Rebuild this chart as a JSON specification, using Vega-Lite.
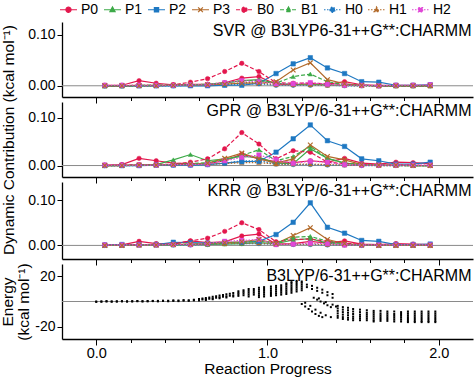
{
"$schema":"https://vega.github.io/schema/vega-lite/v6.json",
"padding":0,
"autosize":{"type":"pad"},
"background":"white",
"bounds":"flush",
"spacing":5,
"config":{
 "font":"Liberation Sans",
 "view":{"stroke":null},
 "axis":{"grid":false,"domainColor":"black","domainWidth":1.3,"tickColor":"black","tickWidth":1,"labelColor":"black","titleColor":"black","titleFontWeight":"normal","labelFontSize":14,"titleFontSize":15.5,"labelPadding":2,"labelOverlap":false,"labelSeparation":-40,"labelFont":"Liberation Sans","titleFont":"Liberation Sans"},
 "legend":{"orient":"none","legendX":-3,"legendY":-22,"direction":"horizontal","columns":9,"labelFontSize":14,"labelColor":"black","labelFont":"Liberation Sans","symbolSize":289,"symbolStrokeWidth":1.2,"columnPadding":2,"labelOffset":3,"padding":0},
 "text":{"font":"Liberation Sans","fontSize":16,"color":"black","fontWeight":"normal"}
},
"datasets":{
"svr":[
{"series":"P0","x":0.05,"value":0.001},{"series":"P0","x":0.15,"value":0.001},{"series":"P0","x":0.25,"value":0.010},{"series":"P0","x":0.35,"value":0.005},{"series":"P0","x":0.45,"value":0.002},{"series":"P0","x":0.55,"value":0.003},{"series":"P0","x":0.65,"value":0.003},{"series":"P0","x":0.75,"value":0.006},{"series":"P0","x":0.85,"value":0.015},{"series":"P0","x":0.95,"value":0.018},{"series":"P0","x":1.05,"value":0.003},{"series":"P0","x":1.15,"value":0.002},{"series":"P0","x":1.25,"value":0.004},{"series":"P0","x":1.35,"value":0.003},{"series":"P0","x":1.45,"value":0.008},{"series":"P0","x":1.55,"value":0.002},{"series":"P0","x":1.65,"value":0.001},{"series":"P0","x":1.75,"value":0.001},{"series":"P0","x":1.85,"value":0.001},{"series":"P0","x":1.95,"value":0.001},
{"series":"P1","x":0.05,"value":0},{"series":"P1","x":0.15,"value":0},{"series":"P1","x":0.25,"value":0.001},{"series":"P1","x":0.35,"value":0.001},{"series":"P1","x":0.45,"value":0.001},{"series":"P1","x":0.55,"value":0.002},{"series":"P1","x":0.65,"value":0.003},{"series":"P1","x":0.75,"value":0.005},{"series":"P1","x":0.85,"value":0.010},{"series":"P1","x":0.95,"value":0.012},{"series":"P1","x":1.05,"value":0.005},{"series":"P1","x":1.15,"value":0.003},{"series":"P1","x":1.25,"value":0.003},{"series":"P1","x":1.35,"value":0.002},{"series":"P1","x":1.45,"value":0.001},{"series":"P1","x":1.55,"value":0.001},{"series":"P1","x":1.65,"value":0},{"series":"P1","x":1.75,"value":0},{"series":"P1","x":1.85,"value":0},{"series":"P1","x":1.95,"value":0},
{"series":"P2","x":0.05,"value":0},{"series":"P2","x":0.15,"value":0},{"series":"P2","x":0.25,"value":0},{"series":"P2","x":0.35,"value":0},{"series":"P2","x":0.45,"value":0},{"series":"P2","x":0.55,"value":0},{"series":"P2","x":0.65,"value":0},{"series":"P2","x":0.75,"value":0.001},{"series":"P2","x":0.85,"value":0.001},{"series":"P2","x":0.95,"value":0.005},{"series":"P2","x":1.05,"value":0.024},{"series":"P2","x":1.15,"value":0.043},{"series":"P2","x":1.25,"value":0.055},{"series":"P2","x":1.35,"value":0.035},{"series":"P2","x":1.45,"value":0.024},{"series":"P2","x":1.55,"value":0.008},{"series":"P2","x":1.65,"value":0.007},{"series":"P2","x":1.75,"value":0.001},{"series":"P2","x":1.85,"value":0.001},{"series":"P2","x":1.95,"value":0.002},
{"series":"P3","x":0.05,"value":0},{"series":"P3","x":0.15,"value":0},{"series":"P3","x":0.25,"value":0},{"series":"P3","x":0.35,"value":0},{"series":"P3","x":0.45,"value":0.001},{"series":"P3","x":0.55,"value":0.002},{"series":"P3","x":0.65,"value":0.002},{"series":"P3","x":0.75,"value":0.003},{"series":"P3","x":0.85,"value":0.005},{"series":"P3","x":0.95,"value":0.005},{"series":"P3","x":1.05,"value":0.008},{"series":"P3","x":1.15,"value":0.031},{"series":"P3","x":1.25,"value":0.045},{"series":"P3","x":1.35,"value":0.012},{"series":"P3","x":1.45,"value":0.004},{"series":"P3","x":1.55,"value":0.001},{"series":"P3","x":1.65,"value":0},{"series":"P3","x":1.75,"value":0},{"series":"P3","x":1.85,"value":0},{"series":"P3","x":1.95,"value":0},
{"series":"B0","x":0.05,"value":0},{"series":"B0","x":0.15,"value":0},{"series":"B0","x":0.25,"value":0.001},{"series":"B0","x":0.35,"value":0.001},{"series":"B0","x":0.45,"value":0.002},{"series":"B0","x":0.55,"value":0.007},{"series":"B0","x":0.65,"value":0.014},{"series":"B0","x":0.75,"value":0.028},{"series":"B0","x":0.85,"value":0.044},{"series":"B0","x":0.95,"value":0.028},{"series":"B0","x":1.05,"value":0.006},{"series":"B0","x":1.15,"value":0.005},{"series":"B0","x":1.25,"value":0.005},{"series":"B0","x":1.35,"value":0.004},{"series":"B0","x":1.45,"value":0.003},{"series":"B0","x":1.55,"value":0.001},{"series":"B0","x":1.65,"value":0},{"series":"B0","x":1.75,"value":0},{"series":"B0","x":1.85,"value":0},{"series":"B0","x":1.95,"value":0},
{"series":"B1","x":0.05,"value":0},{"series":"B1","x":0.15,"value":0},{"series":"B1","x":0.25,"value":0},{"series":"B1","x":0.35,"value":0.001},{"series":"B1","x":0.45,"value":0.001},{"series":"B1","x":0.55,"value":0.002},{"series":"B1","x":0.65,"value":0.003},{"series":"B1","x":0.75,"value":0.006},{"series":"B1","x":0.85,"value":0.010},{"series":"B1","x":0.95,"value":0.010},{"series":"B1","x":1.05,"value":0.005},{"series":"B1","x":1.15,"value":0.018},{"series":"B1","x":1.25,"value":0.023},{"series":"B1","x":1.35,"value":0.008},{"series":"B1","x":1.45,"value":0.002},{"series":"B1","x":1.55,"value":0.001},{"series":"B1","x":1.65,"value":0},{"series":"B1","x":1.75,"value":0},{"series":"B1","x":1.85,"value":0},{"series":"B1","x":1.95,"value":0},
{"series":"H0","x":0.05,"value":0},{"series":"H0","x":0.15,"value":0},{"series":"H0","x":0.25,"value":0},{"series":"H0","x":0.35,"value":0},{"series":"H0","x":0.45,"value":0},{"series":"H0","x":0.55,"value":0.001},{"series":"H0","x":0.65,"value":0.001},{"series":"H0","x":0.75,"value":0.002},{"series":"H0","x":0.85,"value":0.003},{"series":"H0","x":0.95,"value":0.004},{"series":"H0","x":1.05,"value":0.001},{"series":"H0","x":1.15,"value":0.001},{"series":"H0","x":1.25,"value":0.001},{"series":"H0","x":1.35,"value":0.001},{"series":"H0","x":1.45,"value":0},{"series":"H0","x":1.55,"value":0},{"series":"H0","x":1.65,"value":0},{"series":"H0","x":1.75,"value":0},{"series":"H0","x":1.85,"value":0},{"series":"H0","x":1.95,"value":0},
{"series":"H1","x":0.05,"value":0},{"series":"H1","x":0.15,"value":0},{"series":"H1","x":0.25,"value":0.001},{"series":"H1","x":0.35,"value":0.001},{"series":"H1","x":0.45,"value":0.001},{"series":"H1","x":0.55,"value":0.001},{"series":"H1","x":0.65,"value":0.002},{"series":"H1","x":0.75,"value":0.003},{"series":"H1","x":0.85,"value":0.006},{"series":"H1","x":0.95,"value":0.006},{"series":"H1","x":1.05,"value":0.002},{"series":"H1","x":1.15,"value":0.002},{"series":"H1","x":1.25,"value":0.002},{"series":"H1","x":1.35,"value":0.001},{"series":"H1","x":1.45,"value":0.001},{"series":"H1","x":1.55,"value":0},{"series":"H1","x":1.65,"value":0},{"series":"H1","x":1.75,"value":0},{"series":"H1","x":1.85,"value":0},{"series":"H1","x":1.95,"value":0},
{"series":"H2","x":0.05,"value":0.001},{"series":"H2","x":0.15,"value":0.001},{"series":"H2","x":0.25,"value":0.001},{"series":"H2","x":0.35,"value":0.001},{"series":"H2","x":0.45,"value":0.001},{"series":"H2","x":0.55,"value":0.002},{"series":"H2","x":0.65,"value":0.002},{"series":"H2","x":0.75,"value":0.006},{"series":"H2","x":0.85,"value":0.010},{"series":"H2","x":0.95,"value":0.008},{"series":"H2","x":1.05,"value":0.004},{"series":"H2","x":1.15,"value":0.004},{"series":"H2","x":1.25,"value":0.006},{"series":"H2","x":1.35,"value":0.003},{"series":"H2","x":1.45,"value":0.001},{"series":"H2","x":1.55,"value":0.001},{"series":"H2","x":1.65,"value":0},{"series":"H2","x":1.75,"value":0.001},{"series":"H2","x":1.85,"value":0.001},{"series":"H2","x":1.95,"value":0.002}
],
"gpr":[
{"series":"P0","x":0.05,"value":0.001},{"series":"P0","x":0.15,"value":0.002},{"series":"P0","x":0.25,"value":0.015},{"series":"P0","x":0.35,"value":0.010},{"series":"P0","x":0.45,"value":0.005},{"series":"P0","x":0.55,"value":0.004},{"series":"P0","x":0.65,"value":0.004},{"series":"P0","x":0.75,"value":0.010},{"series":"P0","x":0.85,"value":0.024},{"series":"P0","x":0.95,"value":0.014},{"series":"P0","x":1.05,"value":0.008},{"series":"P0","x":1.15,"value":0.006},{"series":"P0","x":1.25,"value":0.010},{"series":"P0","x":1.35,"value":0.007},{"series":"P0","x":1.45,"value":0.015},{"series":"P0","x":1.55,"value":0.005},{"series":"P0","x":1.65,"value":0.003},{"series":"P0","x":1.75,"value":0.007},{"series":"P0","x":1.85,"value":0.006},{"series":"P0","x":1.95,"value":0.004},
{"series":"P1","x":0.05,"value":0},{"series":"P1","x":0.15,"value":0.001},{"series":"P1","x":0.25,"value":0.001},{"series":"P1","x":0.35,"value":0.002},{"series":"P1","x":0.45,"value":0.012},{"series":"P1","x":0.55,"value":0.023},{"series":"P1","x":0.65,"value":0.010},{"series":"P1","x":0.75,"value":0.014},{"series":"P1","x":0.85,"value":0.019},{"series":"P1","x":0.95,"value":0.017},{"series":"P1","x":1.05,"value":0.005},{"series":"P1","x":1.15,"value":0.004},{"series":"P1","x":1.25,"value":0.035},{"series":"P1","x":1.35,"value":0.015},{"series":"P1","x":1.45,"value":0.005},{"series":"P1","x":1.55,"value":0.002},{"series":"P1","x":1.65,"value":0.001},{"series":"P1","x":1.75,"value":0.001},{"series":"P1","x":1.85,"value":0},{"series":"P1","x":1.95,"value":0},
{"series":"P2","x":0.05,"value":0},{"series":"P2","x":0.15,"value":0},{"series":"P2","x":0.25,"value":0},{"series":"P2","x":0.35,"value":0.001},{"series":"P2","x":0.45,"value":0.001},{"series":"P2","x":0.55,"value":0.001},{"series":"P2","x":0.65,"value":0.002},{"series":"P2","x":0.75,"value":0.005},{"series":"P2","x":0.85,"value":0.008},{"series":"P2","x":0.95,"value":0.009},{"series":"P2","x":1.05,"value":0.028},{"series":"P2","x":1.15,"value":0.056},{"series":"P2","x":1.25,"value":0.085},{"series":"P2","x":1.35,"value":0.052},{"series":"P2","x":1.45,"value":0.040},{"series":"P2","x":1.55,"value":0.014},{"series":"P2","x":1.65,"value":0.010},{"series":"P2","x":1.75,"value":0.003},{"series":"P2","x":1.85,"value":0.003},{"series":"P2","x":1.95,"value":0.007},
{"series":"P3","x":0.05,"value":0},{"series":"P3","x":0.15,"value":0},{"series":"P3","x":0.25,"value":0.001},{"series":"P3","x":0.35,"value":0.001},{"series":"P3","x":0.45,"value":0.002},{"series":"P3","x":0.55,"value":0.003},{"series":"P3","x":0.65,"value":0.005},{"series":"P3","x":0.75,"value":0.015},{"series":"P3","x":0.85,"value":0.026},{"series":"P3","x":0.95,"value":0.014},{"series":"P3","x":1.05,"value":0.005},{"series":"P3","x":1.15,"value":0.014},{"series":"P3","x":1.25,"value":0.043},{"series":"P3","x":1.35,"value":0.019},{"series":"P3","x":1.45,"value":0.012},{"series":"P3","x":1.55,"value":0.002},{"series":"P3","x":1.65,"value":0.001},{"series":"P3","x":1.75,"value":0.001},{"series":"P3","x":1.85,"value":0},{"series":"P3","x":1.95,"value":0},
{"series":"B0","x":0.05,"value":0},{"series":"B0","x":0.15,"value":0.001},{"series":"B0","x":0.25,"value":0.002},{"series":"B0","x":0.35,"value":0.002},{"series":"B0","x":0.45,"value":0.003},{"series":"B0","x":0.55,"value":0.007},{"series":"B0","x":0.65,"value":0.014},{"series":"B0","x":0.75,"value":0.035},{"series":"B0","x":0.85,"value":0.069},{"series":"B0","x":0.95,"value":0.045},{"series":"B0","x":1.05,"value":0.014},{"series":"B0","x":1.15,"value":0.031},{"series":"B0","x":1.25,"value":0.028},{"series":"B0","x":1.35,"value":0.007},{"series":"B0","x":1.45,"value":0.004},{"series":"B0","x":1.55,"value":0.002},{"series":"B0","x":1.65,"value":0.001},{"series":"B0","x":1.75,"value":0.001},{"series":"B0","x":1.85,"value":0.001},{"series":"B0","x":1.95,"value":0},
{"series":"B1","x":0.05,"value":0},{"series":"B1","x":0.15,"value":0},{"series":"B1","x":0.25,"value":0.001},{"series":"B1","x":0.35,"value":0.001},{"series":"B1","x":0.45,"value":0.002},{"series":"B1","x":0.55,"value":0.004},{"series":"B1","x":0.65,"value":0.006},{"series":"B1","x":0.75,"value":0.012},{"series":"B1","x":0.85,"value":0.021},{"series":"B1","x":0.95,"value":0.033},{"series":"B1","x":1.05,"value":0.010},{"series":"B1","x":1.15,"value":0.019},{"series":"B1","x":1.25,"value":0.040},{"series":"B1","x":1.35,"value":0.015},{"series":"B1","x":1.45,"value":0.005},{"series":"B1","x":1.55,"value":0.002},{"series":"B1","x":1.65,"value":0.001},{"series":"B1","x":1.75,"value":0},{"series":"B1","x":1.85,"value":0},{"series":"B1","x":1.95,"value":0},
{"series":"H0","x":0.05,"value":0},{"series":"H0","x":0.15,"value":0},{"series":"H0","x":0.25,"value":0},{"series":"H0","x":0.35,"value":0.001},{"series":"H0","x":0.45,"value":0.001},{"series":"H0","x":0.55,"value":0.001},{"series":"H0","x":0.65,"value":0.002},{"series":"H0","x":0.75,"value":0.005},{"series":"H0","x":0.85,"value":0.010},{"series":"H0","x":0.95,"value":0.010},{"series":"H0","x":1.05,"value":0.003},{"series":"H0","x":1.15,"value":0.002},{"series":"H0","x":1.25,"value":0.002},{"series":"H0","x":1.35,"value":0.001},{"series":"H0","x":1.45,"value":0.001},{"series":"H0","x":1.55,"value":0},{"series":"H0","x":1.65,"value":0},{"series":"H0","x":1.75,"value":0},{"series":"H0","x":1.85,"value":0},{"series":"H0","x":1.95,"value":0},
{"series":"H1","x":0.05,"value":0},{"series":"H1","x":0.15,"value":0},{"series":"H1","x":0.25,"value":0.001},{"series":"H1","x":0.35,"value":0.002},{"series":"H1","x":0.45,"value":0.002},{"series":"H1","x":0.55,"value":0.002},{"series":"H1","x":0.65,"value":0.003},{"series":"H1","x":0.75,"value":0.004},{"series":"H1","x":0.85,"value":0.006},{"series":"H1","x":0.95,"value":0.006},{"series":"H1","x":1.05,"value":0.003},{"series":"H1","x":1.15,"value":0.003},{"series":"H1","x":1.25,"value":0.003},{"series":"H1","x":1.35,"value":0.002},{"series":"H1","x":1.45,"value":0.001},{"series":"H1","x":1.55,"value":0.001},{"series":"H1","x":1.65,"value":0},{"series":"H1","x":1.75,"value":0},{"series":"H1","x":1.85,"value":0},{"series":"H1","x":1.95,"value":0},
{"series":"H2","x":0.05,"value":0.001},{"series":"H2","x":0.15,"value":0.001},{"series":"H2","x":0.25,"value":0.001},{"series":"H2","x":0.35,"value":0.001},{"series":"H2","x":0.45,"value":0.002},{"series":"H2","x":0.55,"value":0.002},{"series":"H2","x":0.65,"value":0.003},{"series":"H2","x":0.75,"value":0.010},{"series":"H2","x":0.85,"value":0.017},{"series":"H2","x":0.95,"value":0.022},{"series":"H2","x":1.05,"value":0.012},{"series":"H2","x":1.15,"value":0.005},{"series":"H2","x":1.25,"value":0.009},{"series":"H2","x":1.35,"value":0.007},{"series":"H2","x":1.45,"value":0.002},{"series":"H2","x":1.55,"value":0.001},{"series":"H2","x":1.65,"value":0.001},{"series":"H2","x":1.75,"value":0.001},{"series":"H2","x":1.85,"value":0.001},{"series":"H2","x":1.95,"value":0.001}
],
"krr":[
{"series":"P0","x":0.05,"value":0.001},{"series":"P0","x":0.15,"value":0.001},{"series":"P0","x":0.25,"value":0.009},{"series":"P0","x":0.35,"value":0.004},{"series":"P0","x":0.45,"value":0.003},{"series":"P0","x":0.55,"value":0.010},{"series":"P0","x":0.65,"value":0.006},{"series":"P0","x":0.75,"value":0.008},{"series":"P0","x":0.85,"value":0.021},{"series":"P0","x":0.95,"value":0.025},{"series":"P0","x":1.05,"value":0.003},{"series":"P0","x":1.15,"value":0.004},{"series":"P0","x":1.25,"value":0.009},{"series":"P0","x":1.35,"value":0.005},{"series":"P0","x":1.45,"value":0.010},{"series":"P0","x":1.55,"value":0.003},{"series":"P0","x":1.65,"value":0.002},{"series":"P0","x":1.75,"value":0.004},{"series":"P0","x":1.85,"value":0.003},{"series":"P0","x":1.95,"value":0.002},
{"series":"P1","x":0.05,"value":0},{"series":"P1","x":0.15,"value":0},{"series":"P1","x":0.25,"value":0.001},{"series":"P1","x":0.35,"value":0.001},{"series":"P1","x":0.45,"value":0.001},{"series":"P1","x":0.55,"value":0.002},{"series":"P1","x":0.65,"value":0.002},{"series":"P1","x":0.75,"value":0.003},{"series":"P1","x":0.85,"value":0.004},{"series":"P1","x":0.95,"value":0.006},{"series":"P1","x":1.05,"value":0.004},{"series":"P1","x":1.15,"value":0.012},{"series":"P1","x":1.25,"value":0.015},{"series":"P1","x":1.35,"value":0.005},{"series":"P1","x":1.45,"value":0.002},{"series":"P1","x":1.55,"value":0.001},{"series":"P1","x":1.65,"value":0},{"series":"P1","x":1.75,"value":0},{"series":"P1","x":1.85,"value":0},{"series":"P1","x":1.95,"value":0},
{"series":"P2","x":0.05,"value":0.001},{"series":"P2","x":0.15,"value":0.002},{"series":"P2","x":0.25,"value":0.002},{"series":"P2","x":0.35,"value":0.002},{"series":"P2","x":0.45,"value":0.007},{"series":"P2","x":0.55,"value":0.006},{"series":"P2","x":0.65,"value":0.005},{"series":"P2","x":0.75,"value":0.007},{"series":"P2","x":0.85,"value":0.007},{"series":"P2","x":0.95,"value":0.009},{"series":"P2","x":1.05,"value":0.024},{"series":"P2","x":1.15,"value":0.051},{"series":"P2","x":1.25,"value":0.094},{"series":"P2","x":1.35,"value":0.040},{"series":"P2","x":1.45,"value":0.027},{"series":"P2","x":1.55,"value":0.011},{"series":"P2","x":1.65,"value":0.009},{"series":"P2","x":1.75,"value":0.002},{"series":"P2","x":1.85,"value":0.002},{"series":"P2","x":1.95,"value":0.003},
{"series":"P3","x":0.05,"value":0},{"series":"P3","x":0.15,"value":0},{"series":"P3","x":0.25,"value":0.001},{"series":"P3","x":0.35,"value":0.001},{"series":"P3","x":0.45,"value":0.002},{"series":"P3","x":0.55,"value":0.003},{"series":"P3","x":0.65,"value":0.004},{"series":"P3","x":0.75,"value":0.006},{"series":"P3","x":0.85,"value":0.008},{"series":"P3","x":0.95,"value":0.013},{"series":"P3","x":1.05,"value":0.004},{"series":"P3","x":1.15,"value":0.022},{"series":"P3","x":1.25,"value":0.039},{"series":"P3","x":1.35,"value":0.013},{"series":"P3","x":1.45,"value":0.004},{"series":"P3","x":1.55,"value":0.001},{"series":"P3","x":1.65,"value":0},{"series":"P3","x":1.75,"value":0},{"series":"P3","x":1.85,"value":0},{"series":"P3","x":1.95,"value":0},
{"series":"B0","x":0.05,"value":0},{"series":"B0","x":0.15,"value":0},{"series":"B0","x":0.25,"value":0.002},{"series":"B0","x":0.35,"value":0.002},{"series":"B0","x":0.45,"value":0.003},{"series":"B0","x":0.55,"value":0.010},{"series":"B0","x":0.65,"value":0.016},{"series":"B0","x":0.75,"value":0.031},{"series":"B0","x":0.85,"value":0.050},{"series":"B0","x":0.95,"value":0.035},{"series":"B0","x":1.05,"value":0.008},{"series":"B0","x":1.15,"value":0.013},{"series":"B0","x":1.25,"value":0.014},{"series":"B0","x":1.35,"value":0.009},{"series":"B0","x":1.45,"value":0.005},{"series":"B0","x":1.55,"value":0.002},{"series":"B0","x":1.65,"value":0.001},{"series":"B0","x":1.75,"value":0},{"series":"B0","x":1.85,"value":0},{"series":"B0","x":1.95,"value":0},
{"series":"B1","x":0.05,"value":0},{"series":"B1","x":0.15,"value":0},{"series":"B1","x":0.25,"value":0.001},{"series":"B1","x":0.35,"value":0.001},{"series":"B1","x":0.45,"value":0.002},{"series":"B1","x":0.55,"value":0.003},{"series":"B1","x":0.65,"value":0.004},{"series":"B1","x":0.75,"value":0.005},{"series":"B1","x":0.85,"value":0.006},{"series":"B1","x":0.95,"value":0.010},{"series":"B1","x":1.05,"value":0.005},{"series":"B1","x":1.15,"value":0.018},{"series":"B1","x":1.25,"value":0.020},{"series":"B1","x":1.35,"value":0.009},{"series":"B1","x":1.45,"value":0.003},{"series":"B1","x":1.55,"value":0.001},{"series":"B1","x":1.65,"value":0},{"series":"B1","x":1.75,"value":0},{"series":"B1","x":1.85,"value":0},{"series":"B1","x":1.95,"value":0},
{"series":"H0","x":0.05,"value":0},{"series":"H0","x":0.15,"value":0},{"series":"H0","x":0.25,"value":0.001},{"series":"H0","x":0.35,"value":0.001},{"series":"H0","x":0.45,"value":0.001},{"series":"H0","x":0.55,"value":0.001},{"series":"H0","x":0.65,"value":0.002},{"series":"H0","x":0.75,"value":0.004},{"series":"H0","x":0.85,"value":0.004},{"series":"H0","x":0.95,"value":0.004},{"series":"H0","x":1.05,"value":0.002},{"series":"H0","x":1.15,"value":0.002},{"series":"H0","x":1.25,"value":0.002},{"series":"H0","x":1.35,"value":0.001},{"series":"H0","x":1.45,"value":0.001},{"series":"H0","x":1.55,"value":0},{"series":"H0","x":1.65,"value":0},{"series":"H0","x":1.75,"value":0},{"series":"H0","x":1.85,"value":0},{"series":"H0","x":1.95,"value":0},
{"series":"H1","x":0.05,"value":0},{"series":"H1","x":0.15,"value":0},{"series":"H1","x":0.25,"value":0.001},{"series":"H1","x":0.35,"value":0.001},{"series":"H1","x":0.45,"value":0.002},{"series":"H1","x":0.55,"value":0.002},{"series":"H1","x":0.65,"value":0.003},{"series":"H1","x":0.75,"value":0.004},{"series":"H1","x":0.85,"value":0.005},{"series":"H1","x":0.95,"value":0.005},{"series":"H1","x":1.05,"value":0.002},{"series":"H1","x":1.15,"value":0.003},{"series":"H1","x":1.25,"value":0.003},{"series":"H1","x":1.35,"value":0.002},{"series":"H1","x":1.45,"value":0.001},{"series":"H1","x":1.55,"value":0.001},{"series":"H1","x":1.65,"value":0},{"series":"H1","x":1.75,"value":0},{"series":"H1","x":1.85,"value":0},{"series":"H1","x":1.95,"value":0},
{"series":"H2","x":0.05,"value":0.001},{"series":"H2","x":0.15,"value":0.001},{"series":"H2","x":0.25,"value":0.001},{"series":"H2","x":0.35,"value":0.001},{"series":"H2","x":0.45,"value":0.002},{"series":"H2","x":0.55,"value":0.002},{"series":"H2","x":0.65,"value":0.004},{"series":"H2","x":0.75,"value":0.009},{"series":"H2","x":0.85,"value":0.011},{"series":"H2","x":0.95,"value":0.013},{"series":"H2","x":1.05,"value":0.002},{"series":"H2","x":1.15,"value":0.003},{"series":"H2","x":1.25,"value":0.005},{"series":"H2","x":1.35,"value":0.004},{"series":"H2","x":1.45,"value":0.001},{"series":"H2","x":1.55,"value":0.001},{"series":"H2","x":1.65,"value":0.001},{"series":"H2","x":1.75,"value":0.001},{"series":"H2","x":1.85,"value":0.001},{"series":"H2","x":1.95,"value":0.001}
],
"energy":[
{"x":0,"energy":0},{"x":0,"energy":-0.3},{"x":0.03,"energy":0.1},{"x":0.03,"energy":-0.2},{"x":0.06,"energy":0},{"x":0.06,"energy":0.3},{"x":0.09,"energy":0.1},{"x":0.09,"energy":-0.2},{"x":0.12,"energy":0.2},{"x":0.12,"energy":-0.1},{"x":0.15,"energy":0.1},{"x":0.15,"energy":0.3},{"x":0.18,"energy":0.2},{"x":0.18,"energy":-0.1},{"x":0.21,"energy":0.3},{"x":0.21,"energy":0},{"x":0.24,"energy":0.2},{"x":0.24,"energy":0.4},{"x":0.27,"energy":0.3},{"x":0.27,"energy":0},{"x":0.3,"energy":0.4},{"x":0.3,"energy":0.1},{"x":0.33,"energy":0.3},{"x":0.33,"energy":0.5},{"x":0.36,"energy":0.5},{"x":0.36,"energy":0.1},{"x":0.39,"energy":0.4},{"x":0.39,"energy":0.7},{"x":0.42,"energy":0.6},{"x":0.42,"energy":0.2},{"x":0.45,"energy":0.5},{"x":0.45,"energy":0.9},{"x":0.48,"energy":0.8},{"x":0.48,"energy":0.3},{"x":0.51,"energy":0.7},{"x":0.51,"energy":1.1},{"x":0.54,"energy":1.0},{"x":0.54,"energy":0.5},{"x":0.57,"energy":0.9},{"x":0.57,"energy":1.4},
{"x":0.6,"energy":1.2},{"x":0.6,"energy":2.0},{"x":0.6,"energy":0.8},{"x":0.62,"energy":1.6},{"x":0.62,"energy":2.4},{"x":0.64,"energy":1.8},{"x":0.64,"energy":2.8},{"x":0.64,"energy":1.2},{"x":0.66,"energy":2.2},{"x":0.66,"energy":3.2},{"x":0.68,"energy":2.5},{"x":0.68,"energy":3.8},{"x":0.68,"energy":1.8},{"x":0.7,"energy":3.0},{"x":0.7,"energy":4.2},{"x":0.72,"energy":3.4},{"x":0.72,"energy":4.8},{"x":0.72,"energy":2.6},{"x":0.74,"energy":3.8},{"x":0.74,"energy":5.2},{"x":0.76,"energy":4.2},{"x":0.76,"energy":5.8},{"x":0.76,"energy":3.2},{"x":0.78,"energy":4.6},{"x":0.78,"energy":6.2},{"x":0.8,"energy":5.0},{"x":0.8,"energy":6.8},{"x":0.8,"energy":4.0},
{"x":0.83,"energy":4.5},{"x":0.83,"energy":5.8},{"x":0.83,"energy":7.0},{"x":0.83,"energy":8.2},
{"x":0.86,"energy":5.0},{"x":0.86,"energy":6.5},{"x":0.86,"energy":7.8},{"x":0.86,"energy":9.0},
{"x":0.89,"energy":4.0},{"x":0.89,"energy":5.5},{"x":0.89,"energy":7.0},{"x":0.89,"energy":8.5},{"x":0.89,"energy":10.0},
{"x":0.92,"energy":5.5},{"x":0.92,"energy":7.0},{"x":0.92,"energy":8.5},{"x":0.92,"energy":10.0},
{"x":0.95,"energy":3.5},{"x":0.95,"energy":5.0},{"x":0.95,"energy":6.5},{"x":0.95,"energy":8.0},{"x":0.95,"energy":9.5},{"x":0.95,"energy":11.0},
{"x":0.98,"energy":4.0},{"x":0.98,"energy":5.5},{"x":0.98,"energy":7.0},{"x":0.98,"energy":8.5},{"x":0.98,"energy":10.0},{"x":0.98,"energy":11.5},
{"x":1.02,"energy":4.5},{"x":1.02,"energy":6.0},{"x":1.02,"energy":7.5},{"x":1.02,"energy":9.0},{"x":1.02,"energy":10.5},{"x":1.02,"energy":12.0},
{"x":1.05,"energy":5.0},{"x":1.05,"energy":6.5},{"x":1.05,"energy":8.0},{"x":1.05,"energy":9.5},{"x":1.05,"energy":11.0},{"x":1.05,"energy":12.5},
{"x":1.08,"energy":5.5},{"x":1.08,"energy":7.0},{"x":1.08,"energy":8.5},{"x":1.08,"energy":10.0},{"x":1.08,"energy":11.5},{"x":1.08,"energy":13.0},
{"x":1.11,"energy":6.0},{"x":1.11,"energy":7.5},{"x":1.11,"energy":9.0},{"x":1.11,"energy":10.5},{"x":1.11,"energy":12.0},{"x":1.11,"energy":13.5},{"x":1.11,"energy":14.5},
{"x":1.14,"energy":7.0},{"x":1.14,"energy":8.5},{"x":1.14,"energy":10.0},{"x":1.14,"energy":11.5},{"x":1.14,"energy":13.0},{"x":1.14,"energy":14.5},{"x":1.14,"energy":15.5},
{"x":1.17,"energy":8.0},{"x":1.17,"energy":9.5},{"x":1.17,"energy":11.0},{"x":1.17,"energy":12.5},{"x":1.17,"energy":14.0},{"x":1.17,"energy":15.5},{"x":1.17,"energy":16.5},
{"x":1.2,"energy":9.0},{"x":1.2,"energy":10.5},{"x":1.2,"energy":12.0},{"x":1.2,"energy":13.5},{"x":1.2,"energy":15.0},{"x":1.2,"energy":16.0},
{"x":1.23,"energy":13.5},{"x":1.23,"energy":11.5},{"x":1.26,"energy":12.5},{"x":1.26,"energy":10.0},{"x":1.29,"energy":11.0},{"x":1.29,"energy":8.5},{"x":1.32,"energy":9.5},{"x":1.32,"energy":7.0},{"x":1.35,"energy":7.5},{"x":1.35,"energy":5.0},{"x":1.38,"energy":6.0},{"x":1.38,"energy":3.0},
{"x":1.27,"energy":3.0},{"x":1.29,"energy":1.5},{"x":1.31,"energy":0.0},{"x":1.33,"energy":-1.5},{"x":1.35,"energy":-3.0},{"x":1.37,"energy":-4.5},{"x":1.3,"energy":2.5},{"x":1.34,"energy":-0.5},{"x":1.38,"energy":-2.5},{"x":1.4,"energy":-4.0},
{"x":1.2,"energy":-2.0},{"x":1.22,"energy":-4.0},{"x":1.24,"energy":-6.0},{"x":1.26,"energy":-8.0},{"x":1.28,"energy":-10.0},{"x":1.3,"energy":-11.5},{"x":1.32,"energy":-12.5},{"x":1.22,"energy":-1.0},{"x":1.25,"energy":-3.5},{"x":1.28,"energy":-6.5},{"x":1.31,"energy":-9.0},{"x":1.34,"energy":-11.0},{"x":1.37,"energy":-12.5},
{"x":1.41,"energy":-3.5},{"x":1.41,"energy":-5.5},{"x":1.41,"energy":-7.5},{"x":1.41,"energy":-9.5},{"x":1.41,"energy":-11.5},{"x":1.41,"energy":-13.0},
{"x":1.44,"energy":-4.5},{"x":1.44,"energy":-6.5},{"x":1.44,"energy":-8.5},{"x":1.44,"energy":-10.5},{"x":1.44,"energy":-12.5},{"x":1.44,"energy":-14.0},
{"x":1.47,"energy":-5.0},{"x":1.47,"energy":-7.0},{"x":1.47,"energy":-9.0},{"x":1.47,"energy":-11.0},{"x":1.47,"energy":-13.0},{"x":1.47,"energy":-14.5},
{"x":1.5,"energy":-6.0},{"x":1.5,"energy":-8.0},{"x":1.5,"energy":-10.0},{"x":1.5,"energy":-12.0},{"x":1.5,"energy":-13.5},{"x":1.5,"energy":-15.0},
{"x":1.54,"energy":-6.5},{"x":1.54,"energy":-8.5},{"x":1.54,"energy":-10.5},{"x":1.54,"energy":-12.0},{"x":1.54,"energy":-13.5},{"x":1.54,"energy":-15.0},
{"x":1.58,"energy":-7.0},{"x":1.58,"energy":-9.0},{"x":1.58,"energy":-10.5},{"x":1.58,"energy":-12.0},{"x":1.58,"energy":-13.5},{"x":1.58,"energy":-15.0},
{"x":1.62,"energy":-7.5},{"x":1.62,"energy":-9.0},{"x":1.62,"energy":-10.5},{"x":1.62,"energy":-12.0},{"x":1.62,"energy":-13.5},{"x":1.62,"energy":-15.0},{"x":1.62,"energy":-16.0},
{"x":1.66,"energy":-7.5},{"x":1.66,"energy":-9.5},{"x":1.66,"energy":-11.0},{"x":1.66,"energy":-12.5},{"x":1.66,"energy":-14.0},{"x":1.66,"energy":-15.5},
{"x":1.7,"energy":-8.0},{"x":1.7,"energy":-9.5},{"x":1.7,"energy":-11.0},{"x":1.7,"energy":-12.5},{"x":1.7,"energy":-14.0},{"x":1.7,"energy":-15.5},
{"x":1.74,"energy":-8.0},{"x":1.74,"energy":-10.0},{"x":1.74,"energy":-11.5},{"x":1.74,"energy":-13.0},{"x":1.74,"energy":-14.5},{"x":1.74,"energy":-16.0},
{"x":1.78,"energy":-8.5},{"x":1.78,"energy":-10.0},{"x":1.78,"energy":-11.5},{"x":1.78,"energy":-13.0},{"x":1.78,"energy":-14.5},{"x":1.78,"energy":-16.0},
{"x":1.82,"energy":-8.0},{"x":1.82,"energy":-9.5},{"x":1.82,"energy":-11.0},{"x":1.82,"energy":-12.5},{"x":1.82,"energy":-14.0},{"x":1.82,"energy":-15.5},{"x":1.82,"energy":-16.5},
{"x":1.86,"energy":-8.0},{"x":1.86,"energy":-9.5},{"x":1.86,"energy":-11.0},{"x":1.86,"energy":-12.5},{"x":1.86,"energy":-14.0},{"x":1.86,"energy":-15.5},{"x":1.86,"energy":-16.5},
{"x":1.9,"energy":-8.0},{"x":1.9,"energy":-9.5},{"x":1.9,"energy":-11.0},{"x":1.9,"energy":-12.5},{"x":1.9,"energy":-14.0},{"x":1.9,"energy":-15.5},{"x":1.9,"energy":-16.5},
{"x":1.94,"energy":-8.0},{"x":1.94,"energy":-9.5},{"x":1.94,"energy":-11.0},{"x":1.94,"energy":-12.5},{"x":1.94,"energy":-14.0},{"x":1.94,"energy":-15.5},{"x":1.94,"energy":-16.5},
{"x":1.98,"energy":-8.0},{"x":1.98,"energy":-9.5},{"x":1.98,"energy":-11.0},{"x":1.98,"energy":-12.5},{"x":1.98,"energy":-14.0},{"x":1.98,"energy":-15.5},{"x":1.98,"energy":-16.5}
]
},
"vconcat":[
{
 "width":411,"height":75,
 "data":{"name":"svr"},
 "layer":[
  {"data":{"values":[{}]},"mark":{"type":"rule","color":"#8a8a8a","strokeWidth":1},"encoding":{"y":{"datum":0}}},
  {
   "encoding":{
    "x":{"field":"x","type":"quantitative","scale":{"domain":[-0.2,2.2],"nice":false,"zero":false},"axis":{"values":[0,0.2,0.4,0.6,0.8,1,1.2,1.4,1.6,1.8,2],"labels":false,"title":null,"tickSize":{"condition":{"test":"datum.value % 1 === 0","value":6},"value":3.5}}},
    "y":{"field":"value","type":"quantitative","scale":{"domain":[-0.022,0.125],"nice":false,"zero":false},"axis":{"values":[0,0.05,0.1],"format":".2f","title":null,"tickSize":5,"labelOverlap":false,"labelSeparation":-40}},
    "stroke":{"field":"series","type":"nominal","title":null,"scale":{"domain":["P0","P1","P2","P3","B0","B1","H0","H1","H2"],"range":["#E3174D","#3DAA48","#1E78C2","#B26A2A","#E3174D","#3DAA48","#1E78C2","#B26A2A","#E047D6"]}}
   },
   "layer":[
    {"transform":[{"filter":{"field":"series","oneOf":["P0","P1","P2","P3"]}}],"mark":{"type":"line","strokeWidth":1.2}},
    {"transform":[{"filter":{"field":"series","oneOf":["B0","B1"]}}],"mark":{"type":"line","strokeWidth":1.2,"strokeDash":[4,2]}},
    {"transform":[{"filter":{"field":"series","oneOf":["H0","H1","H2"]}}],"mark":{"type":"line","strokeWidth":1.2,"strokeDash":[1.5,1.5]}},
    {"transform":[{"filter":{"field":"series","oneOf":["P0","B0","H0"]}}],"mark":{"type":"point","shape":"circle","filled":true,"size":20,"strokeWidth":0.5,"opacity":1},"encoding":{"fill":{"field":"series","type":"nominal","title":null,"scale":{"domain":["P0","P1","P2","P3","B0","B1","H0","H1","H2"],"range":["#E3174D","#3DAA48","#1E78C2","#B26A2A","#E3174D","#3DAA48","#1E78C2","#B26A2A","#E047D6"]}}}},
    {"transform":[{"filter":{"field":"series","oneOf":["P1","B1","H1"]}}],"mark":{"type":"point","shape":"triangle-up","filled":true,"size":20,"strokeWidth":0.5,"opacity":1},"encoding":{"fill":{"field":"series","type":"nominal","title":null,"scale":{"domain":["P0","P1","P2","P3","B0","B1","H0","H1","H2"],"range":["#E3174D","#3DAA48","#1E78C2","#B26A2A","#E3174D","#3DAA48","#1E78C2","#B26A2A","#E047D6"]}}}},
    {"transform":[{"filter":{"field":"series","oneOf":["P2","H2"]}}],"mark":{"type":"point","shape":"square","filled":true,"size":20,"strokeWidth":0.5,"opacity":1},"encoding":{"fill":{"field":"series","type":"nominal","title":null,"scale":{"domain":["P0","P1","P2","P3","B0","B1","H0","H1","H2"],"range":["#E3174D","#3DAA48","#1E78C2","#B26A2A","#E3174D","#3DAA48","#1E78C2","#B26A2A","#E047D6"]}}}},
    {"transform":[{"filter":{"field":"series","oneOf":["P3"]}}],"mark":{"type":"point","shape":"M-1,-1L1,1M-1,1L1,-1","filled":false,"size":22,"strokeWidth":1.2,"opacity":1}},
    {"mark":{"type":"point","filled":true,"opacity":1,"clip":true,"size":20},
     "encoding":{
      "y":{"datum":-1},
      "fill":{"field":"series","type":"nominal","title":null,"legend":{"title":null,"orient":"none","legendX":-3,"legendY":-22,"direction":"horizontal","columns":9},"scale":{"domain":["P0","P1","P2","P3","B0","B1","H0","H1","H2"],"range":["#E3174D","#3DAA48","#1E78C2","#B26A2A","#E3174D","#3DAA48","#1E78C2","#B26A2A","#E047D6"]}},
      "strokeDash":{"field":"series","type":"nominal","title":null,"scale":{"domain":["P0","P1","P2","P3","B0","B1","H0","H1","H2"],"range":[[1,0],[1,0],[1,0],[1,0],[4,2],[4,2],[1.5,1.5],[1.5,1.5],[1.5,1.5]]}},
      "shape":{"field":"series","type":"nominal","title":null,"scale":{"domain":["P0","P1","P2","P3","B0","B1","H0","H1","H2"],"range":[
        "M-1,0H1M-0.3,0A0.3,0.3 0 1,0 0.3,0A0.3,0.3 0 1,0 -0.3,0Z",
        "M-1,0H1M0,-0.33L0.3,0.22L-0.3,0.22Z",
        "M-1,0H1M-0.25,-0.25H0.25V0.25H-0.25Z",
        "M-1,0H1M-0.28,-0.28L0.28,0.28M-0.28,0.28L0.28,-0.28",
        "M-1,0H1M-0.3,0A0.3,0.3 0 1,0 0.3,0A0.3,0.3 0 1,0 -0.3,0Z",
        "M-1,0H1M0,-0.33L0.3,0.22L-0.3,0.22Z",
        "M-1,0H1M-0.3,0A0.3,0.3 0 1,0 0.3,0A0.3,0.3 0 1,0 -0.3,0Z",
        "M-1,0H1M0,-0.33L0.3,0.22L-0.3,0.22Z",
        "M-1,0H1M-0.25,-0.25H0.25V0.25H-0.25Z"]}}
     }
    }
   ]
  },
  {"data":{"values":[{}]},"mark":{"type":"text","align":"right","baseline":"top","dy":1,"dx":-1.5},"encoding":{"x":{"datum":2.2},"y":{"datum":0.125},"text":{"value":"SVR @ B3LYP6-31++G**:CHARMM"}}}
 ]
},
{
 "width":411,"height":75,
 "data":{"name":"gpr"},
 "layer":[
  {"data":{"values":[{}]},"mark":{"type":"rule","color":"#8a8a8a","strokeWidth":1},"encoding":{"y":{"datum":0}}},
  {
   "encoding":{
    "x":{"field":"x","type":"quantitative","scale":{"domain":[-0.2,2.2],"nice":false,"zero":false},"axis":{"values":[0,0.2,0.4,0.6,0.8,1,1.2,1.4,1.6,1.8,2],"labels":false,"title":null,"tickSize":{"condition":{"test":"datum.value % 1 === 0","value":6},"value":3.5}}},
    "y":{"field":"value","type":"quantitative","scale":{"domain":[-0.024,0.133],"nice":false,"zero":false},"axis":{"values":[0,0.05,0.1],"format":".2f","title":"Dynamic Contribution (kcal mol⁻¹)","titlePadding":11,"tickSize":5,"labelOverlap":false,"labelSeparation":-40}},
    "stroke":{"field":"series","type":"nominal","title":null,"scale":{"domain":["P0","P1","P2","P3","B0","B1","H0","H1","H2"],"range":["#E3174D","#3DAA48","#1E78C2","#B26A2A","#E3174D","#3DAA48","#1E78C2","#B26A2A","#E047D6"]}}
   },
   "layer":[
    {"transform":[{"filter":{"field":"series","oneOf":["P0","P1","P2","P3"]}}],"mark":{"type":"line","strokeWidth":1.2}},
    {"transform":[{"filter":{"field":"series","oneOf":["B0","B1"]}}],"mark":{"type":"line","strokeWidth":1.2,"strokeDash":[4,2]}},
    {"transform":[{"filter":{"field":"series","oneOf":["H0","H1","H2"]}}],"mark":{"type":"line","strokeWidth":1.2,"strokeDash":[1.5,1.5]}},
    {"transform":[{"filter":{"field":"series","oneOf":["P0","B0","H0"]}}],"mark":{"type":"point","shape":"circle","filled":true,"size":20,"strokeWidth":0.5,"opacity":1},"encoding":{"fill":{"field":"series","type":"nominal","title":null,"scale":{"domain":["P0","P1","P2","P3","B0","B1","H0","H1","H2"],"range":["#E3174D","#3DAA48","#1E78C2","#B26A2A","#E3174D","#3DAA48","#1E78C2","#B26A2A","#E047D6"]}}}},
    {"transform":[{"filter":{"field":"series","oneOf":["P1","B1","H1"]}}],"mark":{"type":"point","shape":"triangle-up","filled":true,"size":20,"strokeWidth":0.5,"opacity":1},"encoding":{"fill":{"field":"series","type":"nominal","title":null,"scale":{"domain":["P0","P1","P2","P3","B0","B1","H0","H1","H2"],"range":["#E3174D","#3DAA48","#1E78C2","#B26A2A","#E3174D","#3DAA48","#1E78C2","#B26A2A","#E047D6"]}}}},
    {"transform":[{"filter":{"field":"series","oneOf":["P2","H2"]}}],"mark":{"type":"point","shape":"square","filled":true,"size":20,"strokeWidth":0.5,"opacity":1},"encoding":{"fill":{"field":"series","type":"nominal","title":null,"scale":{"domain":["P0","P1","P2","P3","B0","B1","H0","H1","H2"],"range":["#E3174D","#3DAA48","#1E78C2","#B26A2A","#E3174D","#3DAA48","#1E78C2","#B26A2A","#E047D6"]}}}},
    {"transform":[{"filter":{"field":"series","oneOf":["P3"]}}],"mark":{"type":"point","shape":"M-1,-1L1,1M-1,1L1,-1","filled":false,"size":22,"strokeWidth":1.2,"opacity":1}}
   ]
  },
  {"data":{"values":[{}]},"mark":{"type":"text","align":"right","baseline":"top","dy":1,"dx":-1.5},"encoding":{"x":{"datum":2.2},"y":{"datum":0.133},"text":{"value":"GPR @ B3LYP/6-31++G**:CHARMM"}}}
 ]
},
{
 "width":411,"height":77,
 "data":{"name":"krr"},
 "layer":[
  {"data":{"values":[{}]},"mark":{"type":"rule","color":"#8a8a8a","strokeWidth":1},"encoding":{"y":{"datum":0}}},
  {
   "encoding":{
    "x":{"field":"x","type":"quantitative","scale":{"domain":[-0.2,2.2],"nice":false,"zero":false},"axis":{"values":[0,0.2,0.4,0.6,0.8,1,1.2,1.4,1.6,1.8,2],"labels":false,"title":null,"tickSize":{"condition":{"test":"datum.value % 1 === 0","value":6},"value":3.5}}},
    "y":{"field":"value","type":"quantitative","scale":{"domain":[-0.03,0.14],"nice":false,"zero":false},"axis":{"values":[0,0.05,0.1],"format":".2f","title":null,"tickSize":5,"labelOverlap":false,"labelSeparation":-40}},
    "stroke":{"field":"series","type":"nominal","title":null,"scale":{"domain":["P0","P1","P2","P3","B0","B1","H0","H1","H2"],"range":["#E3174D","#3DAA48","#1E78C2","#B26A2A","#E3174D","#3DAA48","#1E78C2","#B26A2A","#E047D6"]}}
   },
   "layer":[
    {"transform":[{"filter":{"field":"series","oneOf":["P0","P1","P2","P3"]}}],"mark":{"type":"line","strokeWidth":1.2}},
    {"transform":[{"filter":{"field":"series","oneOf":["B0","B1"]}}],"mark":{"type":"line","strokeWidth":1.2,"strokeDash":[4,2]}},
    {"transform":[{"filter":{"field":"series","oneOf":["H0","H1","H2"]}}],"mark":{"type":"line","strokeWidth":1.2,"strokeDash":[1.5,1.5]}},
    {"transform":[{"filter":{"field":"series","oneOf":["P0","B0","H0"]}}],"mark":{"type":"point","shape":"circle","filled":true,"size":20,"strokeWidth":0.5,"opacity":1},"encoding":{"fill":{"field":"series","type":"nominal","title":null,"scale":{"domain":["P0","P1","P2","P3","B0","B1","H0","H1","H2"],"range":["#E3174D","#3DAA48","#1E78C2","#B26A2A","#E3174D","#3DAA48","#1E78C2","#B26A2A","#E047D6"]}}}},
    {"transform":[{"filter":{"field":"series","oneOf":["P1","B1","H1"]}}],"mark":{"type":"point","shape":"triangle-up","filled":true,"size":20,"strokeWidth":0.5,"opacity":1},"encoding":{"fill":{"field":"series","type":"nominal","title":null,"scale":{"domain":["P0","P1","P2","P3","B0","B1","H0","H1","H2"],"range":["#E3174D","#3DAA48","#1E78C2","#B26A2A","#E3174D","#3DAA48","#1E78C2","#B26A2A","#E047D6"]}}}},
    {"transform":[{"filter":{"field":"series","oneOf":["P2","H2"]}}],"mark":{"type":"point","shape":"square","filled":true,"size":20,"strokeWidth":0.5,"opacity":1},"encoding":{"fill":{"field":"series","type":"nominal","title":null,"scale":{"domain":["P0","P1","P2","P3","B0","B1","H0","H1","H2"],"range":["#E3174D","#3DAA48","#1E78C2","#B26A2A","#E3174D","#3DAA48","#1E78C2","#B26A2A","#E047D6"]}}}},
    {"transform":[{"filter":{"field":"series","oneOf":["P3"]}}],"mark":{"type":"point","shape":"M-1,-1L1,1M-1,1L1,-1","filled":false,"size":22,"strokeWidth":1.2,"opacity":1}}
   ]
  },
  {"data":{"values":[{}]},"mark":{"type":"text","align":"right","baseline":"top","dy":1,"dx":-1.5},"encoding":{"x":{"datum":2.2},"y":{"datum":0.14},"text":{"value":"KRR @ B3LYP/6-31++G**:CHARMM"}}}
 ]
},
{
 "width":411,"height":75,
 "data":{"name":"energy"},
 "layer":[
  {"data":{"values":[{}]},"mark":{"type":"rule","color":"#8a8a8a","strokeWidth":1},"encoding":{"y":{"datum":0}}},
  {
   "encoding":{
    "x":{"field":"x","type":"quantitative","scale":{"domain":[-0.2,2.2],"nice":false,"zero":false},"axis":{"values":[0,0.2,0.4,0.6,0.8,1,1.2,1.4,1.6,1.8,2],"title":"Reaction Progress","titleFontSize":15.5,"labelFontSize":14.5,"titlePadding":2,"labelPadding":1,"labelExpr":"datum.value % 1 === 0 ? format(datum.value, '.1f') : ''","tickSize":{"condition":{"test":"datum.value % 1 === 0","value":6},"value":3.5}}},
    "y":{"field":"energy","type":"quantitative","scale":{"domain":[-30,30],"nice":false,"zero":false},"axis":{"values":[-20,0,20],"labelExpr":"datum.value > 10 ? '20' : (datum.value < -10 ? '-20' : '0')","labelOverlap":false,"labelSeparation":-40,"title":["Energy","(kcal mol⁻¹)"],"titleLineHeight":16,"titlePadding":3,"tickSize":5}}
   },
   "layer":[
    {"mark":{"type":"square","color":"black","size":4,"opacity":1}}
   ]
  },
  {"data":{"values":[{}]},"mark":{"type":"text","align":"right","baseline":"top","dy":4,"dx":-1.5},"encoding":{"x":{"datum":2.2},"y":{"datum":30},"text":{"value":"B3LYP/6-31++G**:CHARMM"}}}
 ]
}
],
"resolve":{"scale":{"x":"independent","y":"independent"}}
}
